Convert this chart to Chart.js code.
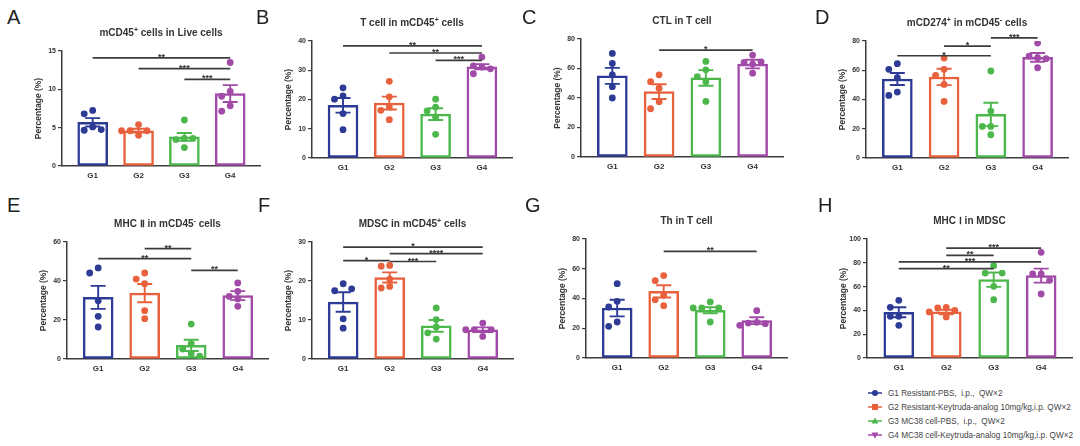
<!DOCTYPE html>
<html>
<head>
<meta charset="utf-8">
<script src="https://cdn.jsdelivr.net/npm/chart.js@4.4.1/dist/chart.umd.min.js"></script>
<style>
  body { margin: 0; background: #fff; width: 1080px; height: 446px; position: relative; overflow: hidden;
         font-family: 'Liberation Sans', Arial, sans-serif; }
  canvas { position: absolute; }
  .letter { position: absolute; font-size: 20px; line-height: 1; color: #222; }
  .title { position: absolute; font-size: 10px; font-weight: bold; color: #333; white-space: nowrap;
           line-height: 1; transform: translate(-50%, -50%); }
  .title sup { font-size: 7px; vertical-align: top; position: relative; top: -2px; }
  .legend { position: absolute; left: 868px; top: 386px; font-size: 8.2px; color: #444; }
  .legend div { height: 14px; display: flex; align-items: center; white-space: pre; }
  .legend svg { margin-right: 6px; }
</style>
</head>
<body>
<script>
// groups and legend
const groups = ['G1', 'G2', 'G3', 'G4'];
const legendLabels = [
  'G1 Resistant-PBS,  i.p.,  QW×2',
  'G2 Resistant-Keytruda-analog 10mg/kg,i.p. QW×2',
  'G3 MC38 cell-PBS,  i.p.,  QW×2',
  'G4 MC38 cell-Keytruda-analog 10mg/kg,i.p. QW×2'
];
const groupColors = ['#2d3b96', '#e8613c', '#4cb84c', '#a24aa8'];
const yLabel = 'Percentage (%)';

// A
const titleA = 'mCD45⁺ cells in Live cells';
const ticksA = [0, 5, 10, 15];
const meanA = [5.7, 4.6, 3.8, 9.45];
const semA = [0.55, 0.25, 0.5, 1.1];
const dotsA = [[7.25, 6.8, 5.1, 4.66, 4.75], [5.4, 4.6, 4.6, 4.6, 4.0], [6.0, 3.6, 3.45, 3.6, 2.4], [13.5, 9.74, 9.1, 7.85, 7.15]];
const sigA = [[1, 4, 14.1, '**'], [2, 4, 12.7, '***'], [3, 4, 11.3, '***']];

// B
const titleB = 'T cell in mCD45⁺ cells';
const ticksB = [0, 10, 20, 30, 40];
const meanB = [18.0, 18.8, 15.0, 31.2];
const semB = [2.5, 2.2, 2.0, 0.9];
const dotsB = [[24.0, 21.2, 20.1, 15.2, 9.7], [26.2, 20.9, 17.4, 16.3, 13.1], [20.1, 17.4, 16.1, 14.0, 8.1], [34.5, 31.1, 31.5, 30.5, 28.8]];
const sigB = [[1, 4, 38.3, '**'], [2, 4, 35.9, '**'], [3, 4, 33.4, '***']];

// C
const titleC = 'CTL in T cell';
const ticksC = [0, 20, 40, 60, 80];
const meanC = [55.0, 44.3, 53.6, 63.0];
const semC = [5.4, 5.0, 5.3, 2.9];
const dotsC = [[70.2, 63.4, 55.7, 47.7, 40.0], [55.7, 51.1, 46.6, 37.5, 32.7], [64.8, 59.1, 54.5, 51.1, 37.7], [69.1, 64.1, 64.5, 63.0, 56.8]];
const sigC = [[2, 4, 72.5, '*']];

// D
const titleD = 'mCD274⁺ in mCD45⁻ cells';
const ticksD = [0, 20, 40, 60, 80];
const meanD = [54.0, 55.4, 29.8, 68.8];
const semD = [4.1, 5.6, 8.0, 3.0];
const dotsD = [[64.5, 60.6, 54.9, 45.1, 42.8], [68.3, 60.6, 56.5, 50.3, 38.7], [59.5, 32.1, 21.6, 21.6, 15.9], [78.6, 68.6, 69.7, 67.9, 61.7]];
const sigD = [[1, 3, 69.9, '*'], [2, 3, 76.5, '*'], [3, 4, 82.2, '***']];

// E
const titleE = 'MHC Ⅱ in mCD45⁻ cells';
const ticksE = [0, 20, 40, 60];
const meanE = [31.6, 33.8, 7.0, 32.5];
const semE = [5.9, 4.7, 2.9, 2.3];
const dotsE = [[46.7, 44.1, 29.9, 21.9, 16.4], [44.1, 41.0, 38.6, 24.8, 20.7], [17.9, 7.9, 5.1, 2.7, 1.4], [39.0, 34.7, 32.1, 30.8, 27.0]];
const sigE = [[2, 3, 56.6, '**'], [1, 3, 51.5, '**'], [3, 4, 45.5, '**']];

// F
const titleF = 'MDSC in mCD45⁺ cells';
const ticksF = [0, 10, 20, 30];
const meanF = [14.6, 20.9, 8.5, 7.5];
const semF = [2.5, 1.3, 1.5, 0.6];
const dotsF = [[19.3, 17.5, 18.0, 10.3, 7.9], [24.0, 23.8, 20.5, 18.6, 18.2], [13.1, 10.1, 8.2, 6.7, 5.1], [9.2, 7.5, 7.5, 7.5, 5.8]];
const sigF = [[1, 4, 28.7, '*'], [2, 4, 27.0, '****'], [1, 2, 25.2, '*'], [2, 3, 25.0, '***']];

// G
const titleG = 'Th in T cell';
const ticksG = [0, 20, 40, 60, 80];
const meanG = [33.6, 44.8, 32.1, 25.1];
const semG = [5.6, 4.1, 2.0, 2.3];
const dotsG = [[50.0, 38.1, 34.3, 24.2, 21.3], [55.4, 52.0, 42.2, 39.2, 35.2], [37.7, 33.6, 33.6, 33.6, 24.2], [31.8, 24.0, 23.5, 23.1, 22.0]];
const sigG = [[2, 4, 71.7, '**']];

// H
const titleH = 'MHC Ⅰ in MDSC';
const ticksH = [0, 20, 40, 60, 80, 100];
const meanH = [38.4, 38.7, 65.8, 69.2];
const semH = [4.2, 1.9, 6.0, 5.9];
const dotsH = [[48.5, 42.6, 35.0, 35.0, 27.5], [42.6, 42.0, 40.0, 38.7, 34.5], [77.6, 71.4, 71.4, 60.2, 49.0], [88.8, 70.6, 70.6, 65.3, 53.8]];
const sigH = [[2, 4, 92.4, '***'], [2, 3, 86.3, '**'], [1, 4, 80.7, '***'], [1, 3, 75.1, '**']];

const panels = [
  { letter: 'A', title: titleA, ticks: ticksA, mean: meanA, sem: semA, dots: dotsA, sig: sigA, box: { x: 62, top: 51, bottom: 166, right: 260 }, titleY: 33, lx: 7, ly: 7 },
  { letter: 'B', title: titleB, ticks: ticksB, mean: meanB, sem: semB, dots: dotsB, sig: sigB, box: { x: 312, top: 41, bottom: 158, right: 512 }, titleY: 23, lx: 256, ly: 7 },
  { letter: 'C', title: titleC, ticks: ticksC, mean: meanC, sem: semC, dots: dotsC, sig: sigC, box: { x: 581, top: 39, bottom: 157, right: 783 }, titleY: 21, lx: 522, ly: 7 },
  { letter: 'D', title: titleD, ticks: ticksD, mean: meanD, sem: semD, dots: dotsD, sig: sigD, box: { x: 866, top: 41, bottom: 158, right: 1068 }, titleY: 23, lx: 815, ly: 7 },
  { letter: 'E', title: titleE, ticks: ticksE, mean: meanE, sem: semE, dots: dotsE, sig: sigE, box: { x: 67, top: 242, bottom: 359, right: 268 }, titleY: 224, lx: 7, ly: 195 },
  { letter: 'F', title: titleF, ticks: ticksF, mean: meanF, sem: semF, dots: dotsF, sig: sigF, box: { x: 312, top: 242, bottom: 359, right: 513 }, titleY: 224, lx: 258, ly: 195 },
  { letter: 'G', title: titleG, ticks: ticksG, mean: meanG, sem: semG, dots: dotsG, sig: sigG, box: { x: 586, top: 239, bottom: 358, right: 787 }, titleY: 221, lx: 525, ly: 195 },
  { letter: 'H', title: titleH, ticks: ticksH, mean: meanH, sem: semH, dots: dotsH, sig: sigH, box: { x: 867, top: 239, bottom: 358, right: 1072 }, titleY: 221, lx: 818, ly: 195 }
];

Chart.defaults.font.family = "'Liberation Sans', Arial, sans-serif";
const axisColor = '#3c3c3c';

// spread overlapping dots sideways, like a column scatter
const swarm = {
  id: 'swarm',
  afterDatasetsUpdate(chart) {
    const meta = chart.getDatasetMeta(0);
    const raw = chart.data.datasets[0].data;
    const step = 8.5, minDist = 7.4;
    const placed = {};
    meta.data.forEach((pt, i) => {
      const list = placed[raw[i].x] || (placed[raw[i].x] = []);
      const cx = pt.x;
      for (const k of [0, -1, 1, -2, 2, -3, 3]) {
        const nx = cx + k * step;
        if (list.every(q => Math.hypot(q.x - nx, q.y - pt.y) >= minDist)) {
          pt.x = nx;
          list.push({ x: nx, y: pt.y });
          break;
        }
      }
    });
  }
};

function extras(p) {
  return {
    id: 'extras',
    afterDatasetDraw(chart, args) {
      if (args.index !== 1) return;
      const { ctx, scales: { x, y } } = chart;
      ctx.save();
      ctx.lineWidth = 1.9;
      p.mean.forEach((m, g) => {
        const cx = x.getPixelForValue(g + 1);
        const t = y.getPixelForValue(m + p.sem[g]);
        const b = y.getPixelForValue(m - p.sem[g]);
        ctx.strokeStyle = groupColors[g];
        ctx.beginPath();
        ctx.moveTo(cx, t); ctx.lineTo(cx, b);
        ctx.moveTo(cx - 7.5, t); ctx.lineTo(cx + 7.5, t);
        ctx.moveTo(cx - 7.5, b); ctx.lineTo(cx + 7.5, b);
        ctx.stroke();
      });
      ctx.restore();
    },
    afterDatasetsDraw(chart) {
      const { ctx, scales: { x, y } } = chart;
      ctx.save();
      ctx.strokeStyle = axisColor;
      ctx.fillStyle = '#333';
      ctx.lineWidth = 1.7;
      ctx.font = "bold 9px 'Liberation Sans', Arial, sans-serif";
      ctx.textAlign = 'center';
      ctx.textBaseline = 'alphabetic';
      p.sig.forEach(([a, b, v, label]) => {
        const x1 = x.getPixelForValue(a), x2 = x.getPixelForValue(b), py = y.getPixelForValue(v);
        ctx.beginPath();
        ctx.moveTo(x1, py); ctx.lineTo(x2, py);
        ctx.stroke();
        ctx.fillText(label, (x1 + x2) / 2, py + 2);
      });
      ctx.restore();
    }
  };
}

function makePanel(p) {
  const b = p.box;
  const yW = 28, padTop = 16, padRight = 4, xH = 22;
  const cv = document.createElement('canvas');
  cv.width = yW + (b.right - b.x) + padRight;
  cv.height = padTop + (b.bottom - b.top) + xH;
  cv.style.left = (b.x - yW) + 'px';
  cv.style.top = (b.top - padTop) + 'px';
  document.body.appendChild(cv);

  const letter = document.createElement('div');
  letter.className = 'letter';
  letter.textContent = p.letter;
  letter.style.left = p.lx + 'px';
  letter.style.top = p.ly + 'px';
  document.body.appendChild(letter);

  const title = document.createElement('div');
  title.className = 'title';
  title.innerHTML = p.title.replace('⁺', '<sup>+</sup>').replace('⁻', '<sup>-</sup>');
  title.style.left = ((b.x + b.right) / 2) + 'px';
  title.style.top = p.titleY + 'px';
  document.body.appendChild(title);

  const dotData = [], dotColors = [];
  p.dots.forEach((vals, g) => vals.forEach(v => {
    dotData.push({ x: g + 1, y: v });
    dotColors.push(groupColors[g]);
  }));

  new Chart(cv, {
    type: 'bar',
    data: {
      datasets: [
        { type: 'scatter', data: dotData, pointRadius: 3.4, pointBackgroundColor: dotColors, pointBorderWidth: 0 },
        { type: 'bar', data: p.mean.map((m, g) => ({ x: g + 1, y: m })), backgroundColor: '#fff',
          borderColor: groupColors, borderWidth: 2.5, borderSkipped: false, barThickness: 30 }
      ]
    },
    options: {
      responsive: false,
      animation: false,
      events: [],
      layout: { padding: { top: padTop, right: padRight, left: 0, bottom: 0 } },
      plugins: { legend: { display: false }, tooltip: { enabled: false } },
      scales: {
        x: {
          type: 'linear', min: 0.33, max: 4.65, offset: false,
          grid: { display: false, drawTicks: false },
          border: { color: axisColor, width: 1.5 },
          ticks: { font: { size: 8, weight: 'bold' }, color: '#333', padding: 5, autoSkip: false, maxRotation: 0,
                   callback: v => groups[v - 1] },
          afterBuildTicks: s => { s.ticks = groups.map((g, i) => ({ value: i + 1 })); },
          afterFit: s => { s.height = xH; }
        },
        y: {
          min: 0, max: p.ticks[p.ticks.length - 1],
          afterBuildTicks: s => { s.ticks = p.ticks.map(v => ({ value: v })); },
          grid: { drawOnChartArea: false, drawTicks: true, tickLength: 4, color: axisColor, lineWidth: 1.2 },
          border: { color: axisColor, width: 1.5 },
          ticks: { font: { size: 7, weight: 'bold' }, color: '#333', padding: 2 },
          title: { display: true, text: yLabel, font: { size: 8.5, weight: 'bold' }, color: '#333', padding: 0 },
          afterFit: s => { s.width = yW; }
        }
      }
    },
    plugins: [swarm, extras(p)]
  });
}

panels.forEach(makePanel);

// legend
const markers = [
  c => `<circle cx="7" cy="7" r="3" fill="${c}"/>`,
  c => `<rect x="4" y="4" width="6" height="6" fill="${c}"/>`,
  c => `<polygon points="7,3.5 10.5,9.5 3.5,9.5" fill="${c}"/>`,
  c => `<polygon points="3.5,4.5 10.5,4.5 7,10.5" fill="${c}"/>`
];
const legend = document.createElement('div');
legend.className = 'legend';
legend.innerHTML = legendLabels.map((t, i) =>
  `<div><svg width="14" height="14"><line x1="0" y1="7" x2="14" y2="7" stroke="${groupColors[i]}" stroke-width="1.5"/>${markers[i](groupColors[i])}</svg>${t}</div>`
).join('');
document.body.appendChild(legend);
</script>
</body>
</html>
